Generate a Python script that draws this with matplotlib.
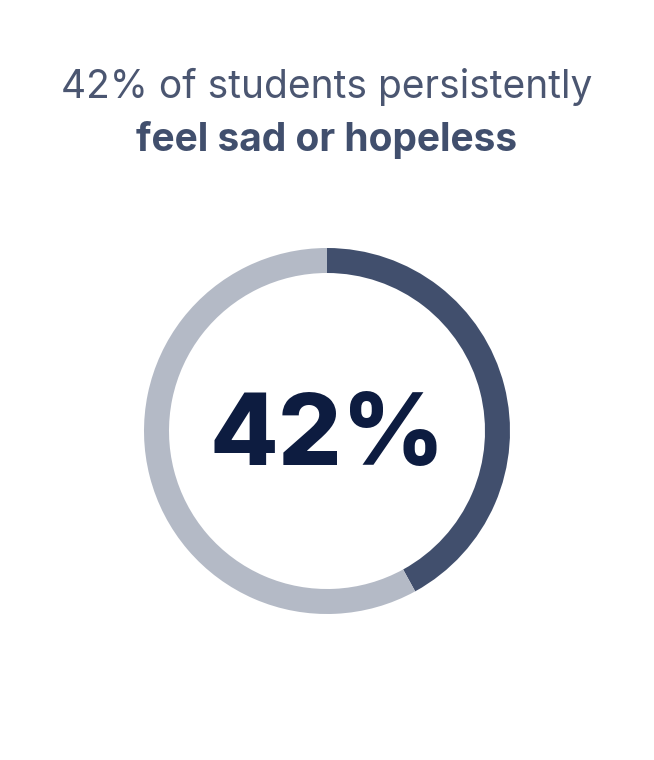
import matplotlib.pyplot as plt

share = 42
values = [share, 100 - share]
colors = ['#414f6d', '#b4bac6']
title_1 = '42% of students persistently'
title_2 = 'feel sad or hopeless'
center_label = '42%'

W, H = 654, 760
fig = plt.figure(figsize=(W / 100, H / 100), dpi=100)

# donut, centre at (327, 431) px from top
ax = fig.add_axes([127 / W, (H - 431 - 200) / H, 400 / W, 400 / H])
ax.pie(values, colors=colors, startangle=90, counterclock=False, radius=183,
       wedgeprops=dict(width=25, linewidth=0))
ax.set_xlim(-200, 200)
ax.set_ylim(-200, 200)
ax.set_aspect('equal')
ax.axis('off')
ax.text(0, -8, center_label, ha='center', va='center', fontsize=72,
        fontweight='heavy', color='#0d1c40', family='Inter')

fig.text(0.5, 1 - 87 / H, title_1, ha='center', va='center', fontsize=28,
         color='#4b5671', family='Inter')
fig.text(0.5, 1 - 140 / H, title_2, ha='center', va='center', fontsize=28,
         fontweight='bold', color='#414f6d', family='Inter')

fig.savefig('out.png', dpi=100, facecolor='white')
